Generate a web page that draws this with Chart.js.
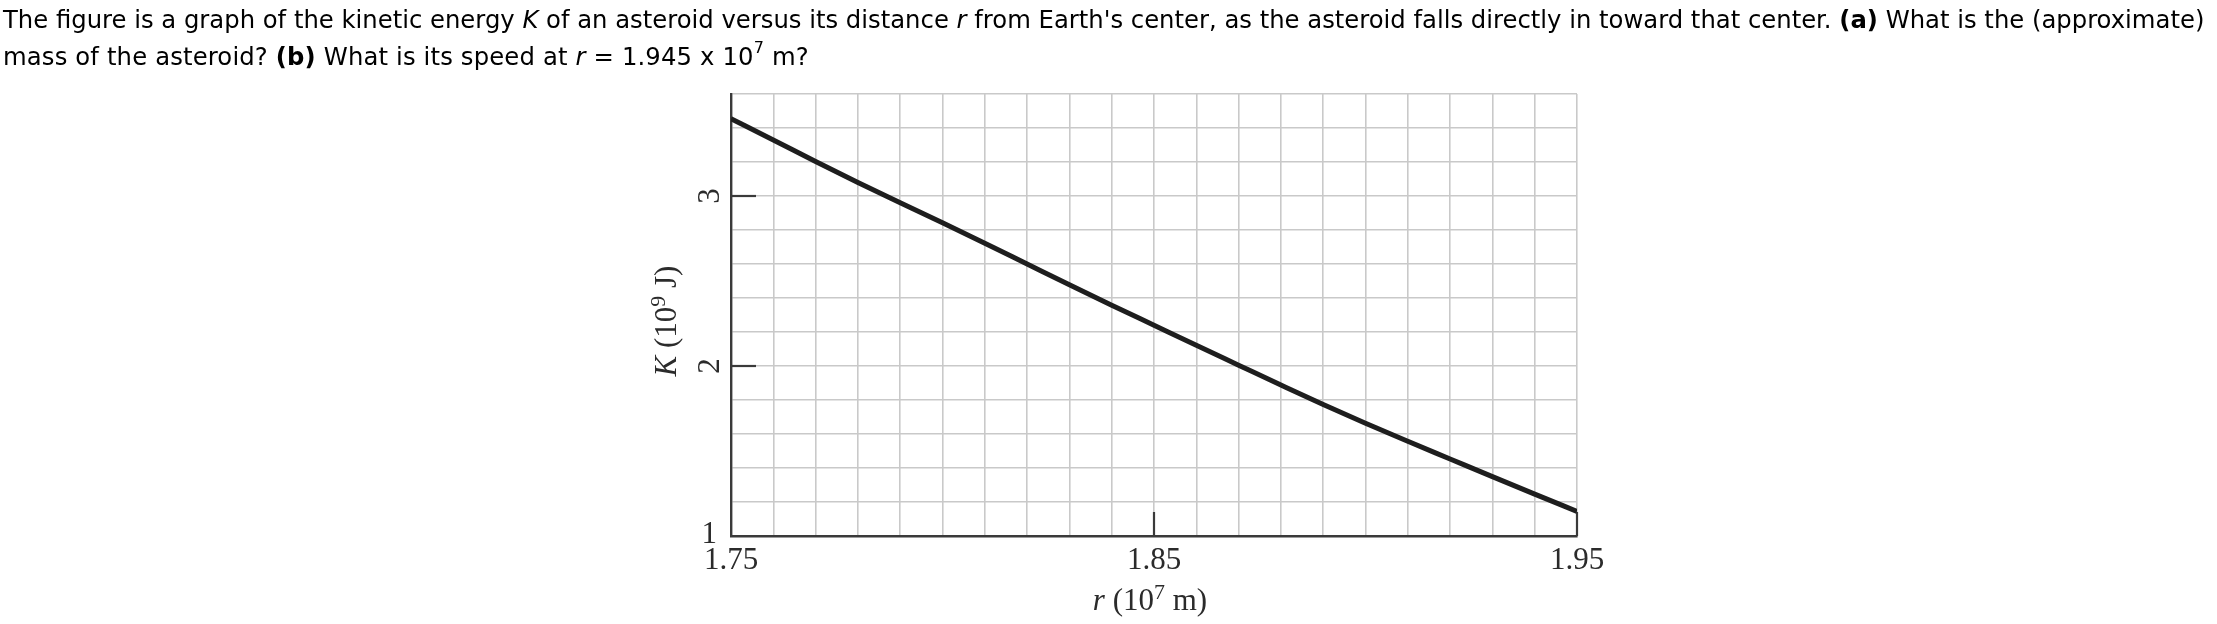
<!DOCTYPE html>
<html><head><meta charset="utf-8">
<script src="https://cdn.jsdelivr.net/npm/chart.js@4.4.1/dist/chart.umd.min.js"></script>
<style>
html,body{margin:0;padding:0;background:#fff;width:2217px;height:624px;overflow:hidden;}
#wrap{position:absolute;left:0;top:0;width:2217px;height:624px;}
#q{position:absolute;left:3px;top:1px;font-family:"DejaVu Sans",Verdana,sans-serif;font-size:24.3px;line-height:37px;color:#000;white-space:nowrap;}
#q sup{font-size:16px;line-height:0;position:relative;top:-3px;}
#q .l2{letter-spacing:0.15px;}
</style></head><body>
<div id="wrap"><canvas id="c" width="2217" height="624"></canvas></div>
<div id="q">The figure is a graph of the kinetic energy <i>K</i> of an asteroid versus its distance <i>r</i> from Earth's center, as the asteroid falls directly in toward that center. <b>(a)</b> What is the (approximate)<br><span class="l2">mass of the asteroid? <b>(b)</b> What is its speed at <i>r</i> = 1.945 x 10<sup>7</sup> m?</span></div>
<script>
// distance r (10^7 m)
const rValues = [1.75,1.76,1.77,1.78,1.79,1.80,1.81,1.82,1.83,1.84,1.85,1.86,1.87,1.88,1.89,1.90,1.91,1.92,1.93,1.94,1.95];
// kinetic energy K (10^9 J)
const kValues = [3.455,3.330,3.203,3.080,2.960,2.842,2.722,2.600,2.478,2.358,2.240,2.122,2.005,1.888,1.773,1.663,1.557,1.453,1.349,1.246,1.145];
const xTickLabels = ['1.75','1.85','1.95'];
const yTickLabels = ['2','3'];
const yBottomLabel = '1';
const xInnerTicks = [1.85, 1.95];
const yInnerTicks = [2, 3];
const xMin = 1.75, xMax = 1.95, xStep = 0.01;
const yMin = 1, yMax = 3.6, yStep = 0.2;

const SERIF = '"Liberation Serif","Times New Roman",serif';
const FS = 31;
const TXT = '#2b2b2b';

function drawRich(ctx, parts, cx, cy, rot) {
  ctx.save();
  ctx.translate(cx, cy);
  if (rot) ctx.rotate(rot);
  ctx.textBaseline = 'alphabetic';
  ctx.textAlign = 'left';
  let total = 0;
  const fonts = parts.map(p => {
    const f = (p.italic ? 'italic ' : '') + (p.sup ? Math.round(FS*0.7) : FS) + 'px ' + SERIF;
    ctx.font = f; const w = ctx.measureText(p.t).width; total += w; return {f, w};
  });
  let x = -total/2;
  ctx.fillStyle = TXT;
  const base = 10;
  parts.forEach((p, i) => {
    ctx.font = fonts[i].f;
    ctx.fillText(p.t, x, p.sup ? base - FS*0.36 : base);
    x += fonts[i].w;
  });
  ctx.restore();
}

const decor = {
  id: 'decor',
  beforeDatasetsDraw(chart) {
    const {ctx, chartArea: a, scales: {x, y}} = chart;
    ctx.save();
    ctx.strokeStyle = '#3a3a3a';
    ctx.lineWidth = 2.2;
    xInnerTicks.forEach(v => {
      const px = x.getPixelForValue(v);
      ctx.beginPath(); ctx.moveTo(px, a.bottom); ctx.lineTo(px, a.bottom - 24); ctx.stroke();
    });
    yInnerTicks.forEach(v => {
      const py = y.getPixelForValue(v);
      ctx.beginPath(); ctx.moveTo(a.left, py); ctx.lineTo(a.left + 25, py); ctx.stroke();
    });
    ctx.restore();
  },
  afterDraw(chart) {
    const {ctx, chartArea: a, scales: {x, y}} = chart;
    ctx.save();
    ctx.font = FS + 'px ' + SERIF;
    ctx.fillStyle = TXT;
    ctx.textAlign = 'right';
    ctx.textBaseline = 'middle';
    ctx.fillText(yBottomLabel, a.left - 14, y.getPixelForValue(yMin) - 1);
    ctx.restore();
    drawRich(ctx, [{t:'r', italic:true},{t:' (10'},{t:'7', sup:true},{t:' m)'}], (a.left + a.right)/2 - 4, a.bottom + 64, 0);
    drawRich(ctx, [{t:'K', italic:true},{t:' (10'},{t:'9', sup:true},{t:' J)'}], a.left - 65, (a.top + a.bottom)/2 + 6, -Math.PI/2);
  }
};

new Chart(document.getElementById('c'), {
  type: 'scatter',
  data: {
    datasets: [{
      data: rValues.map((r, i) => ({x: r, y: kValues[i]})),
      showLine: true,
      borderColor: '#1e1e1e',
      borderWidth: 5,
      pointRadius: 0,
      cubicInterpolationMode: 'monotone',
      fill: false
    }]
  },
  options: {
    responsive: false,
    animation: false,
    devicePixelRatio: 1,
    layout: {padding: {left: 640, right: 640, top: 94, bottom: 0}},
    plugins: {legend: {display: false}, tooltip: {enabled: false}},
    scales: {
      x: {
        type: 'linear', min: xMin, max: xMax,
        afterFit: s => { s.height = 88; },
        border: {display: true, color: '#3a3a3a', width: 2.4},
        grid: {color: '#c9c9c9', lineWidth: 1.6, drawTicks: false},
        ticks: {
          stepSize: xStep, autoSkip: false, maxRotation: 0, minRotation: 0, padding: 6,
          color: TXT, font: {family: SERIF, size: FS},
          callback: v => { const s = (Math.round(v*100)/100).toFixed(2); return xTickLabels.includes(s) ? s : ''; }
        }
      },
      y: {
        type: 'linear', min: yMin, max: yMax,
        afterFit: s => { s.width = 91; },
        border: {display: true, color: '#3a3a3a', width: 2.4},
        grid: {color: '#c9c9c9', lineWidth: 1.6, drawTicks: false},
        ticks: {
          stepSize: yStep, autoSkip: false, minRotation: 90, maxRotation: 90, crossAlign: 'center', padding: 12,
          color: TXT, font: {family: SERIF, size: FS},
          callback: v => { const s = String(Math.round(v*10)/10); return yTickLabels.includes(s) ? s : ''; }
        }
      }
    }
  },
  plugins: [decor]
});
</script>
</body></html>
